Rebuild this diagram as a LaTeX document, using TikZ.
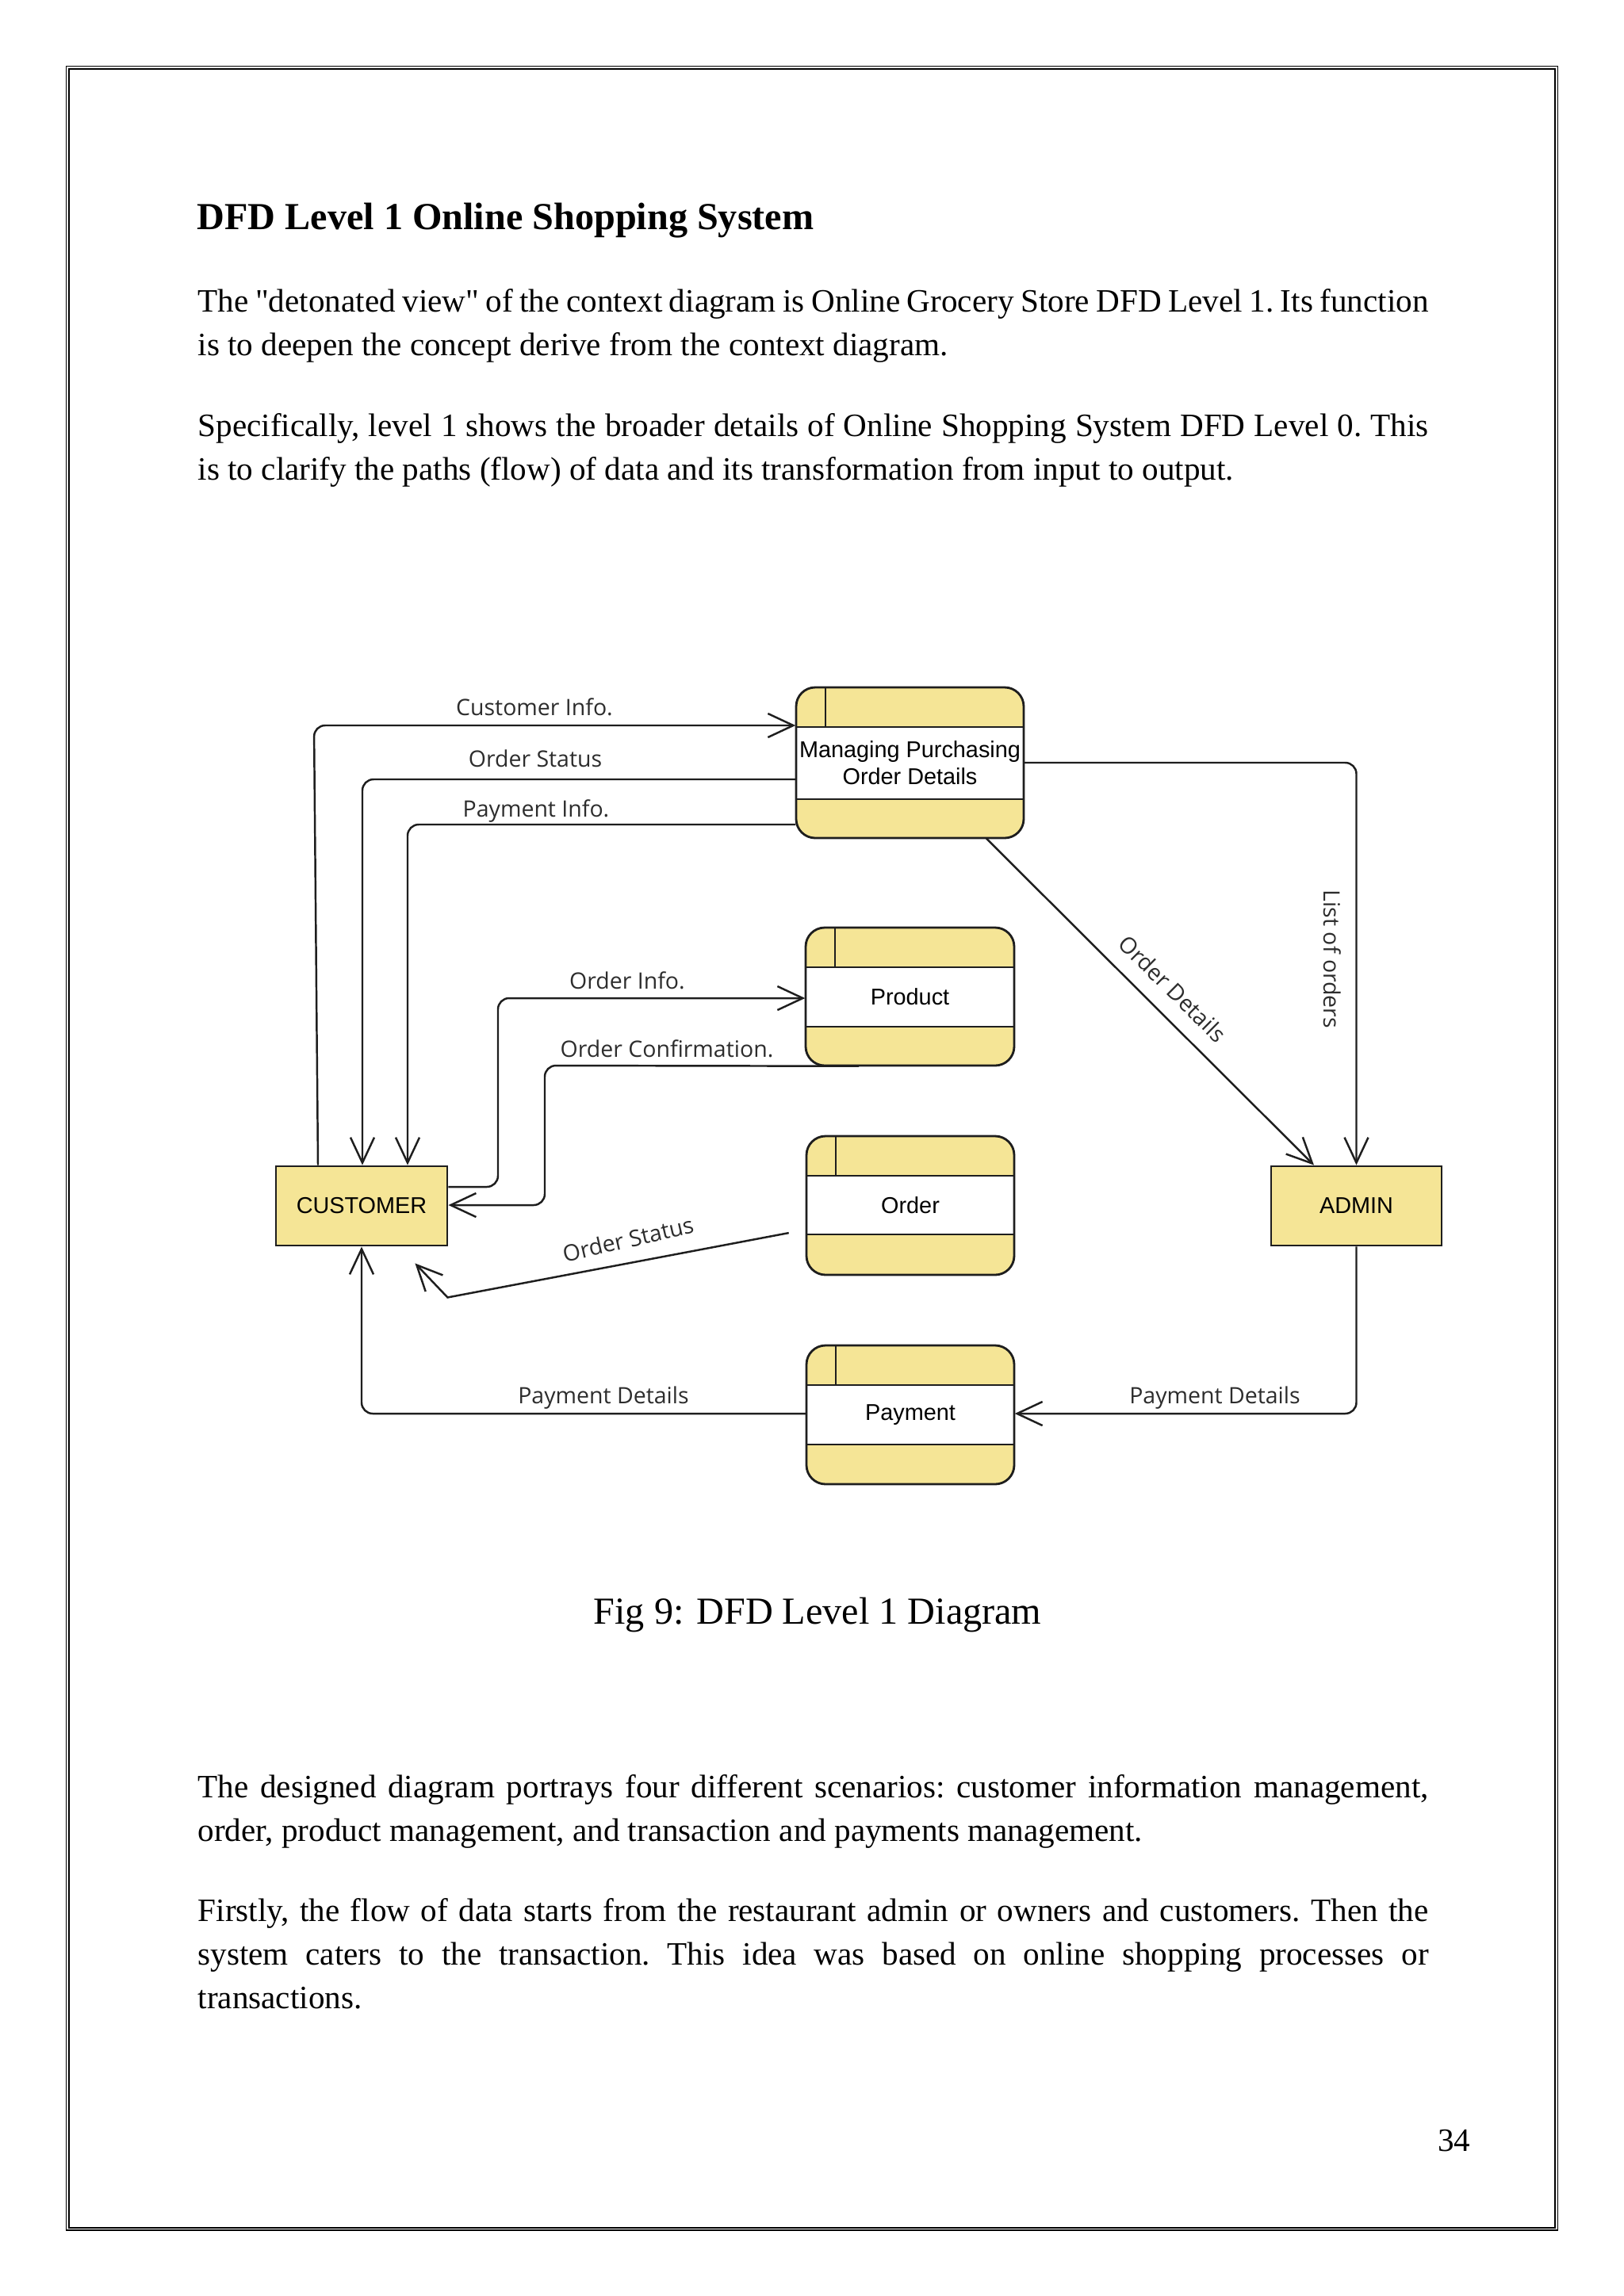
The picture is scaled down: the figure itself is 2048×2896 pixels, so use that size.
\documentclass[tikz,border=0pt]{standalone}
\usepackage{fontspec}
\setmainfont{Liberation Serif}[Ligatures=TeXOff]
\newfontfamily\lblfont{Open Sans}
\newfontfamily\bxfont{Liberation Sans}
\usetikzlibrary{arrows.meta}
\definecolor{dfdyellow}{RGB}{245,229,150}
\definecolor{inkline}{RGB}{30,30,30}
\definecolor{lblgray}{RGB}{45,45,45}

% data store: #1 name, #2 xl, #3 xr, #4 top, #5 header line, #6 lower line, #7 bottom, #8 small divider x, #9 text
\newcommand{\dstore}[9]{%
  \fill[dfdyellow, rounded corners=0.24cm] (#2,#4) rectangle (#3,#7);
  \fill[white] (#2,#5) rectangle (#3,#6);
  \draw[inkline, line width=0.8pt] (#2,#5) -- (#3,#5) (#2,#6) -- (#3,#6) (#8,#4) -- (#8,#5);
  \draw[inkline, line width=0.8pt, rounded corners=0.24cm] (#2,#4) rectangle (#3,#7);
  \node[inner sep=0, minimum width={(#3-#2)*0.01cm}, minimum height={(#7-#4)*0.01cm}] (#1) at ({(#2+#3)/2},{(#4+#7)/2}) {};
  \node[boxtxt] (#1-txt) at ({(#2+#3)/2},{(#5+#6)/2}) {#9};
}

\begin{document}
\begin{tikzpicture}[x=0.01cm,y=-0.01cm,
  body/.style={anchor=base west, inner sep=0, text width=15.51cm, align=justify,
    font=\fontsize{11.7}{15.65}\selectfont\frenchspacing},
  flow/.style={draw=inkline, line width=0.7pt, rounded corners=0.14cm,
    -{Straight Barb[length=0.32cm,width=0.3cm]}},
  flowlbl/.style={font=\lblfont\fontsize{8.1}{10}\selectfont, text=lblgray, inner sep=0},
  entity/.style={draw=inkline, line width=0.8pt, fill=dfdyellow, minimum height=1cm,
    inner sep=0, font=\bxfont\fontsize{8.2}{10}\selectfont},
  boxtxt/.style={font=\bxfont\fontsize{8.2}{9.7}\selectfont, inner sep=0, align=center},
  pageframe/.style={draw=black, line width=0.55pt}
]
\fill[white] (0,0) rectangle (2048,2896);
\useasboundingbox (0,0) rectangle (2048,2896);

% page frame
\draw[pageframe] (83.5,83.5) rectangle (1964.5,2813);
\draw[pageframe] (87.3,87.3) rectangle (1961,2809.7);

% texts
\node[anchor=base west, inner sep=0, font=\bfseries\fontsize{13.7}{16}\selectfont] (title) at (248,289) {DFD Level 1 Online Shopping System};
\node[body] (p1) at (249,393) {The "detonated view" of the context diagram is Online Grocery Store DFD Level 1. Its function\linebreak is to deepen the concept derive from the context diagram.};
\node[body] (p2) at (249,550) {Specifically, level 1 shows the broader details of Online Shopping System DFD Level 0. This\linebreak is to clarify the paths (flow) of data and its transformation from input to output.};
\node[anchor=base west, inner sep=0, font=\fontsize{13.7}{16}\selectfont] (caption) at (748,2048) {Fig 9: DFD Level 1 Diagram};
\node[body] (p3) at (249,2267) {The designed diagram portrays four different scenarios: customer information management,\linebreak order, product management, and transaction and payments management.};
\node[body] (p4) at (249,2423) {Firstly, the flow of data starts from the restaurant admin or owners and customers. Then the\linebreak system caters to the transaction. This idea was based on online shopping processes or\linebreak transactions.};
\node[anchor=base east, inner sep=0, font=\fontsize{11.7}{14}\selectfont] (pagenum) at (1855,2713) {34};

% data stores
\dstore{mp}{1004}{1291}{867}{917}{1008}{1057}{1041}{Managing Purchasing\\Order Details}
\dstore{prod}{1016}{1279}{1170}{1220}{1295}{1344}{1053}{Product}
\dstore{ord}{1017}{1279}{1433}{1483}{1557}{1608}{1054}{Order}
\dstore{pay}{1017}{1279}{1697}{1747}{1822}{1872}{1054}{Payment}

% external entities
\node[entity, minimum width=2.16cm] (cust) at (456,1521) {CUSTOMER};
\node[entity, minimum width=2.15cm] (admin) at (1710.5,1521) {ADMIN};

% flows
\draw[flow] (cust.north -| 401,0) -- (396,915) -- (mp.west |- 0,915);
\draw[flow] (mp.west |- 0,983) -- (457,983) -- (cust.north -| 457,0);
\draw[flow] (mp.west |- 0,1040) -- (514,1040) -- (cust.north -| 514,0);
\draw[flow] (cust.east |- 0,1497) -- (628,1497) -- (628,1259) -- (prod.west |- 0,1259);
\draw[flow] (prod.south -| 1083,0) -- (687,1344) -- (687,1520) -- (cust.east |- 0,1520);
\draw[flow, sharp corners, shorten <=0.22cm] (ord.west |- 0,1551) -- ([shift={(-0.01cm,-0.64cm)}]cust.south east) -- ([shift={(-0.42cm,-0.21cm)}]cust.south east);
\draw[flow] (mp.south -| 1244,0) -- (admin.north -| 1657,0);
\draw[flow] (mp.east |- 0,962) -| (admin.north);
\draw[flow] (admin.south) |- (pay.east |- 0,1783);
\draw[flow] (pay.west |- 0,1783) -| (cust.south);

% flow labels
\node[flowlbl, anchor=base] (l-ci) at (674,902) {Customer Info.};
\node[flowlbl, anchor=base] (l-os) at (675,967) {Order Status};
\node[flowlbl, anchor=base] (l-pi) at (676,1030) {Payment Info.};
\node[flowlbl, anchor=base] (l-oi) at (791,1247) {Order Info.};
\node[flowlbl, anchor=base] (l-oc) at (841,1333) {Order Confirmation.};
\node[flowlbl, anchor=base] (l-pd1) at (761,1770) {Payment Details};
\node[flowlbl, anchor=base] (l-pd2) at (1532,1770) {Payment Details};
\node[flowlbl, rotate=-44.8] (l-od) at (1479,1247) {Order Details};
\node[flowlbl, rotate=-90] (l-lo) at (1680,1210) {List of orders};
\node[flowlbl, rotate=13] (l-os2) at (792,1563) {Order Status};
\end{tikzpicture}
\end{document}
